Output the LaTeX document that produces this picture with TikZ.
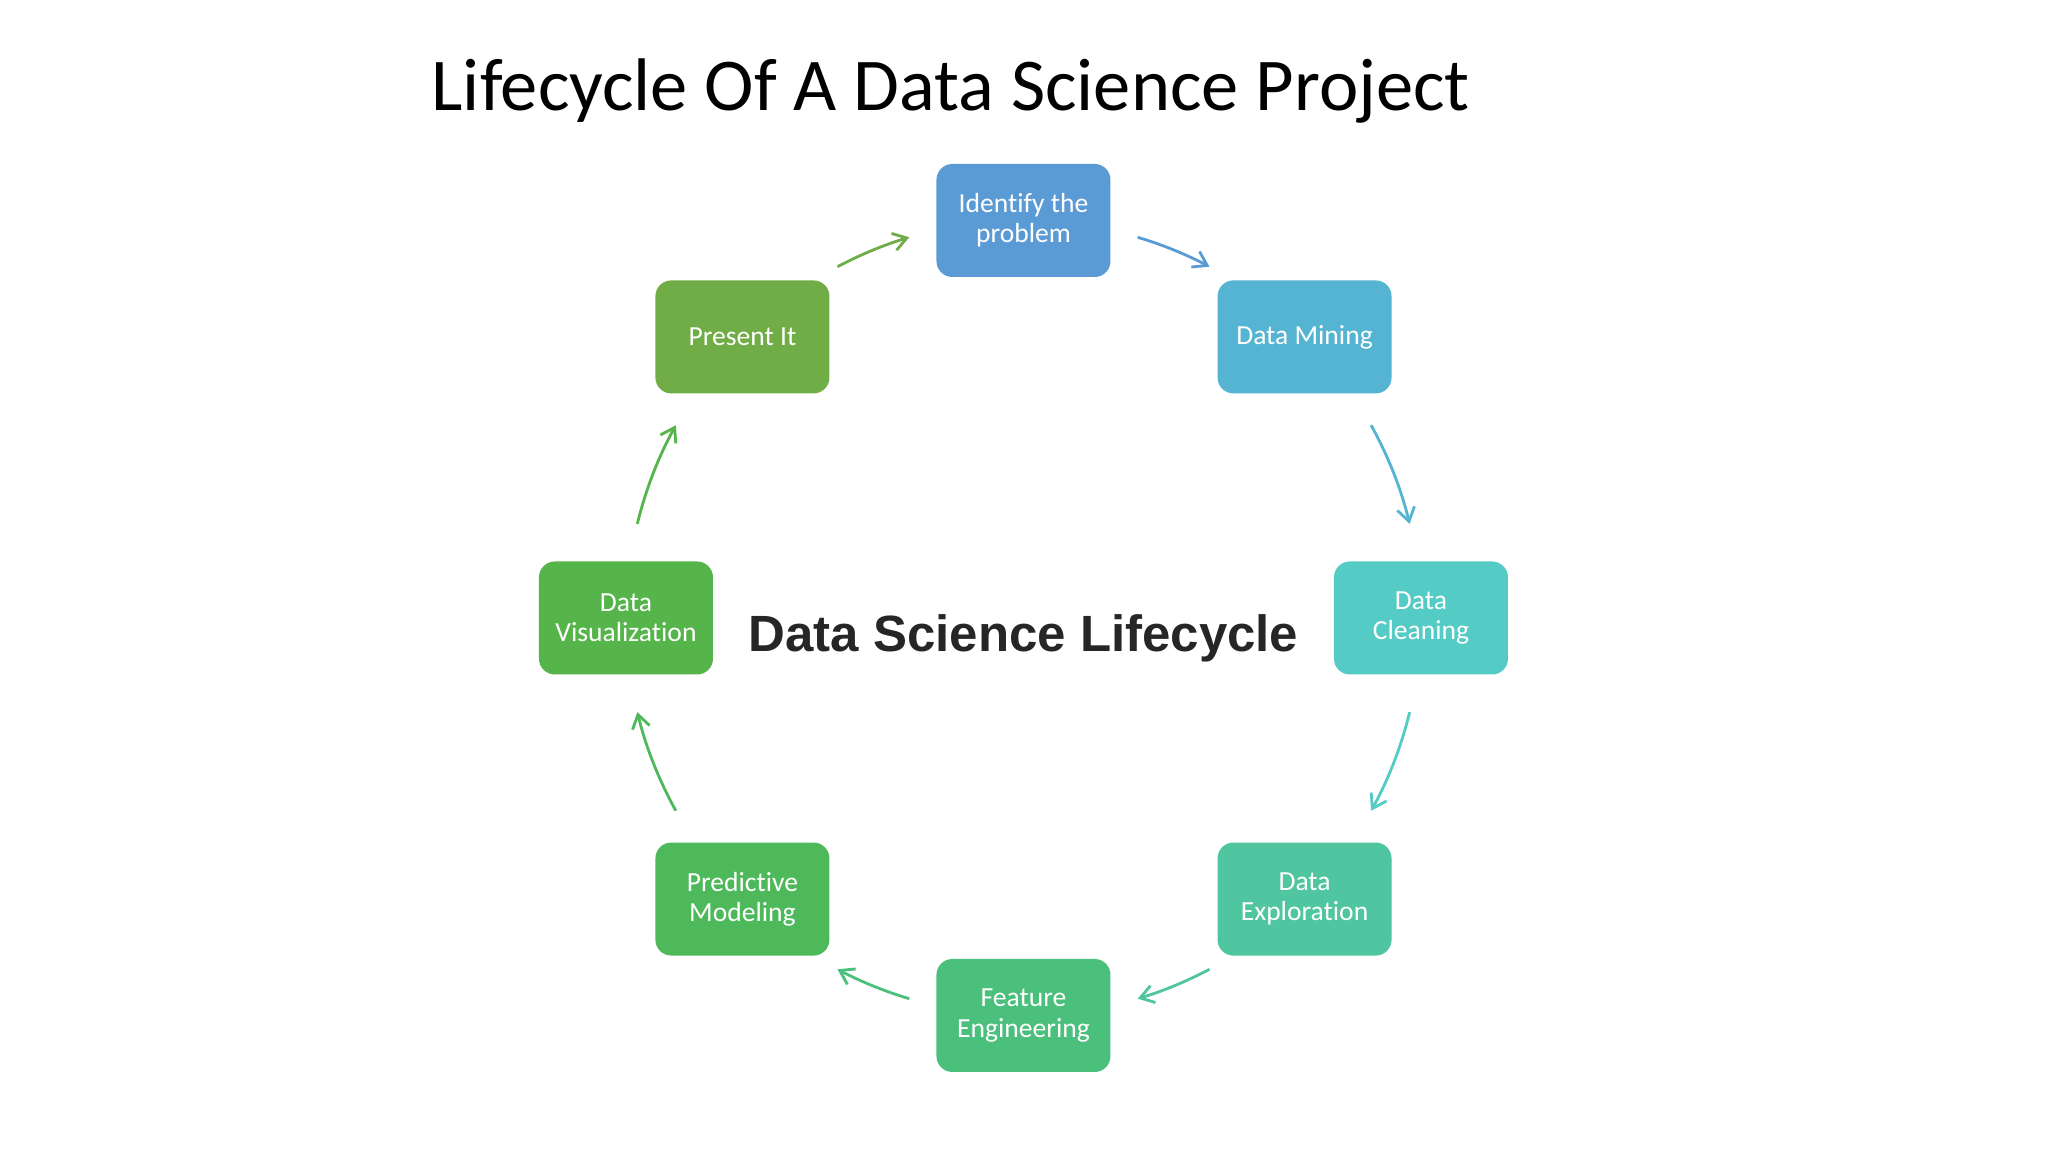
\documentclass[tikz,border=0pt]{standalone}
\usepackage{fontspec}
\setmainfont{Carlito}[Ligatures=NoCommon]
\newfontfamily\headfont{Liberation Sans}
\usetikzlibrary{positioning}
\usetikzlibrary{arrows.meta}
\definecolor{idcol}{HTML}{5B9BD5}
\definecolor{mincol}{HTML}{56B4D3}
\definecolor{clncol}{HTML}{54CBC4}
\definecolor{expcol}{HTML}{4FC5A0}
\definecolor{feacol}{HTML}{4BBF7C}
\definecolor{precol}{HTML}{4DB95A}
\definecolor{viscol}{HTML}{55B54A}
\definecolor{prscol}{HTML}{70AD47}

\tikzset{
  stage/.style={rounded corners=4.5pt, minimum width=1.74cm, minimum height=1.13cm,
    inner sep=0pt, align=center, text=white, font=\fontsize{7.85}{8.6}\selectfont},
  cyc/.style={line width=0.8pt, -{Straight Barb[length=3.8pt,width=5pt]}}
}

\begin{document}
\begin{tikzpicture}

  \fill[white] (-10.235,6.18) rectangle (10.245,-5.34);
  \useasboundingbox (-10.235,6.18) rectangle (10.245,-5.34);

  \node[anchor=base west, inner sep=0pt, font=\fontsize{21.2}{25}\selectfont] (title) at (-5.925,5.07) {Lifecycle Of A Data Science Project};
  \node[anchor=base, text=black!85, font=\headfont\bfseries\fontsize{14.5}{17}\selectfont] (center) at (0,-0.34) {Data Science Lifecycle};

  % stages
  \node[stage, fill=idcol] (identify) at (90:3.975) {Identify the\\problem};
  \node[stage, fill=mincol] (mining) at (45:3.975) {Data Mining};
  \node[stage, fill=clncol] (cleaning) at (0:3.975) {Data\\Cleaning};
  \node[stage, fill=expcol] (explore) at (-45:3.975) {Data\\Exploration};
  \node[stage, fill=feacol] (feature) at (-90:3.975) {Feature\\Engineering};
  \node[stage, fill=precol] (predict) at (-135:3.975) {Predictive\\Modeling};
  \node[stage, fill=viscol] (visual) at (180:3.975) {Data\\Visualization};
  \node[stage, fill=prscol] (present) at (135:3.975) {Present It};

  \coordinate (a1) at (73.3:3.975);
  \coordinate (a2) at (29.0:3.975);
  \coordinate (a3) at (-13.7:3.975);
  \coordinate (a4) at (-62.1:3.975);
  \coordinate (a5) at (-106.7:3.975);
  \coordinate (a6) at (-151.0:3.975);
  \coordinate (a7) at (166.3:3.975);
  \coordinate (a8) at (117.9:3.975);

  % cycle arrows
  \draw[cyc, idcol] (a1) arc[start angle=73.3, end angle=62.1, radius=3.975];
  \draw[cyc, mincol] (a2) arc[start angle=29.0, end angle=13.7, radius=3.975];
  \draw[cyc, clncol] (a3) arc[start angle=-13.7, end angle=-29.0, radius=3.975];
  \draw[cyc, expcol] (a4) arc[start angle=-62.1, end angle=-73.3, radius=3.975];
  \draw[cyc, feacol] (a5) arc[start angle=-106.7, end angle=-117.9, radius=3.975];
  \draw[cyc, precol] (a6) arc[start angle=-151.0, end angle=-166.3, radius=3.975];
  \draw[cyc, viscol] (a7) arc[start angle=166.3, end angle=151.0, radius=3.975];
  \draw[cyc, prscol] (a8) arc[start angle=117.9, end angle=106.7, radius=3.975];

\end{tikzpicture}
\end{document}
